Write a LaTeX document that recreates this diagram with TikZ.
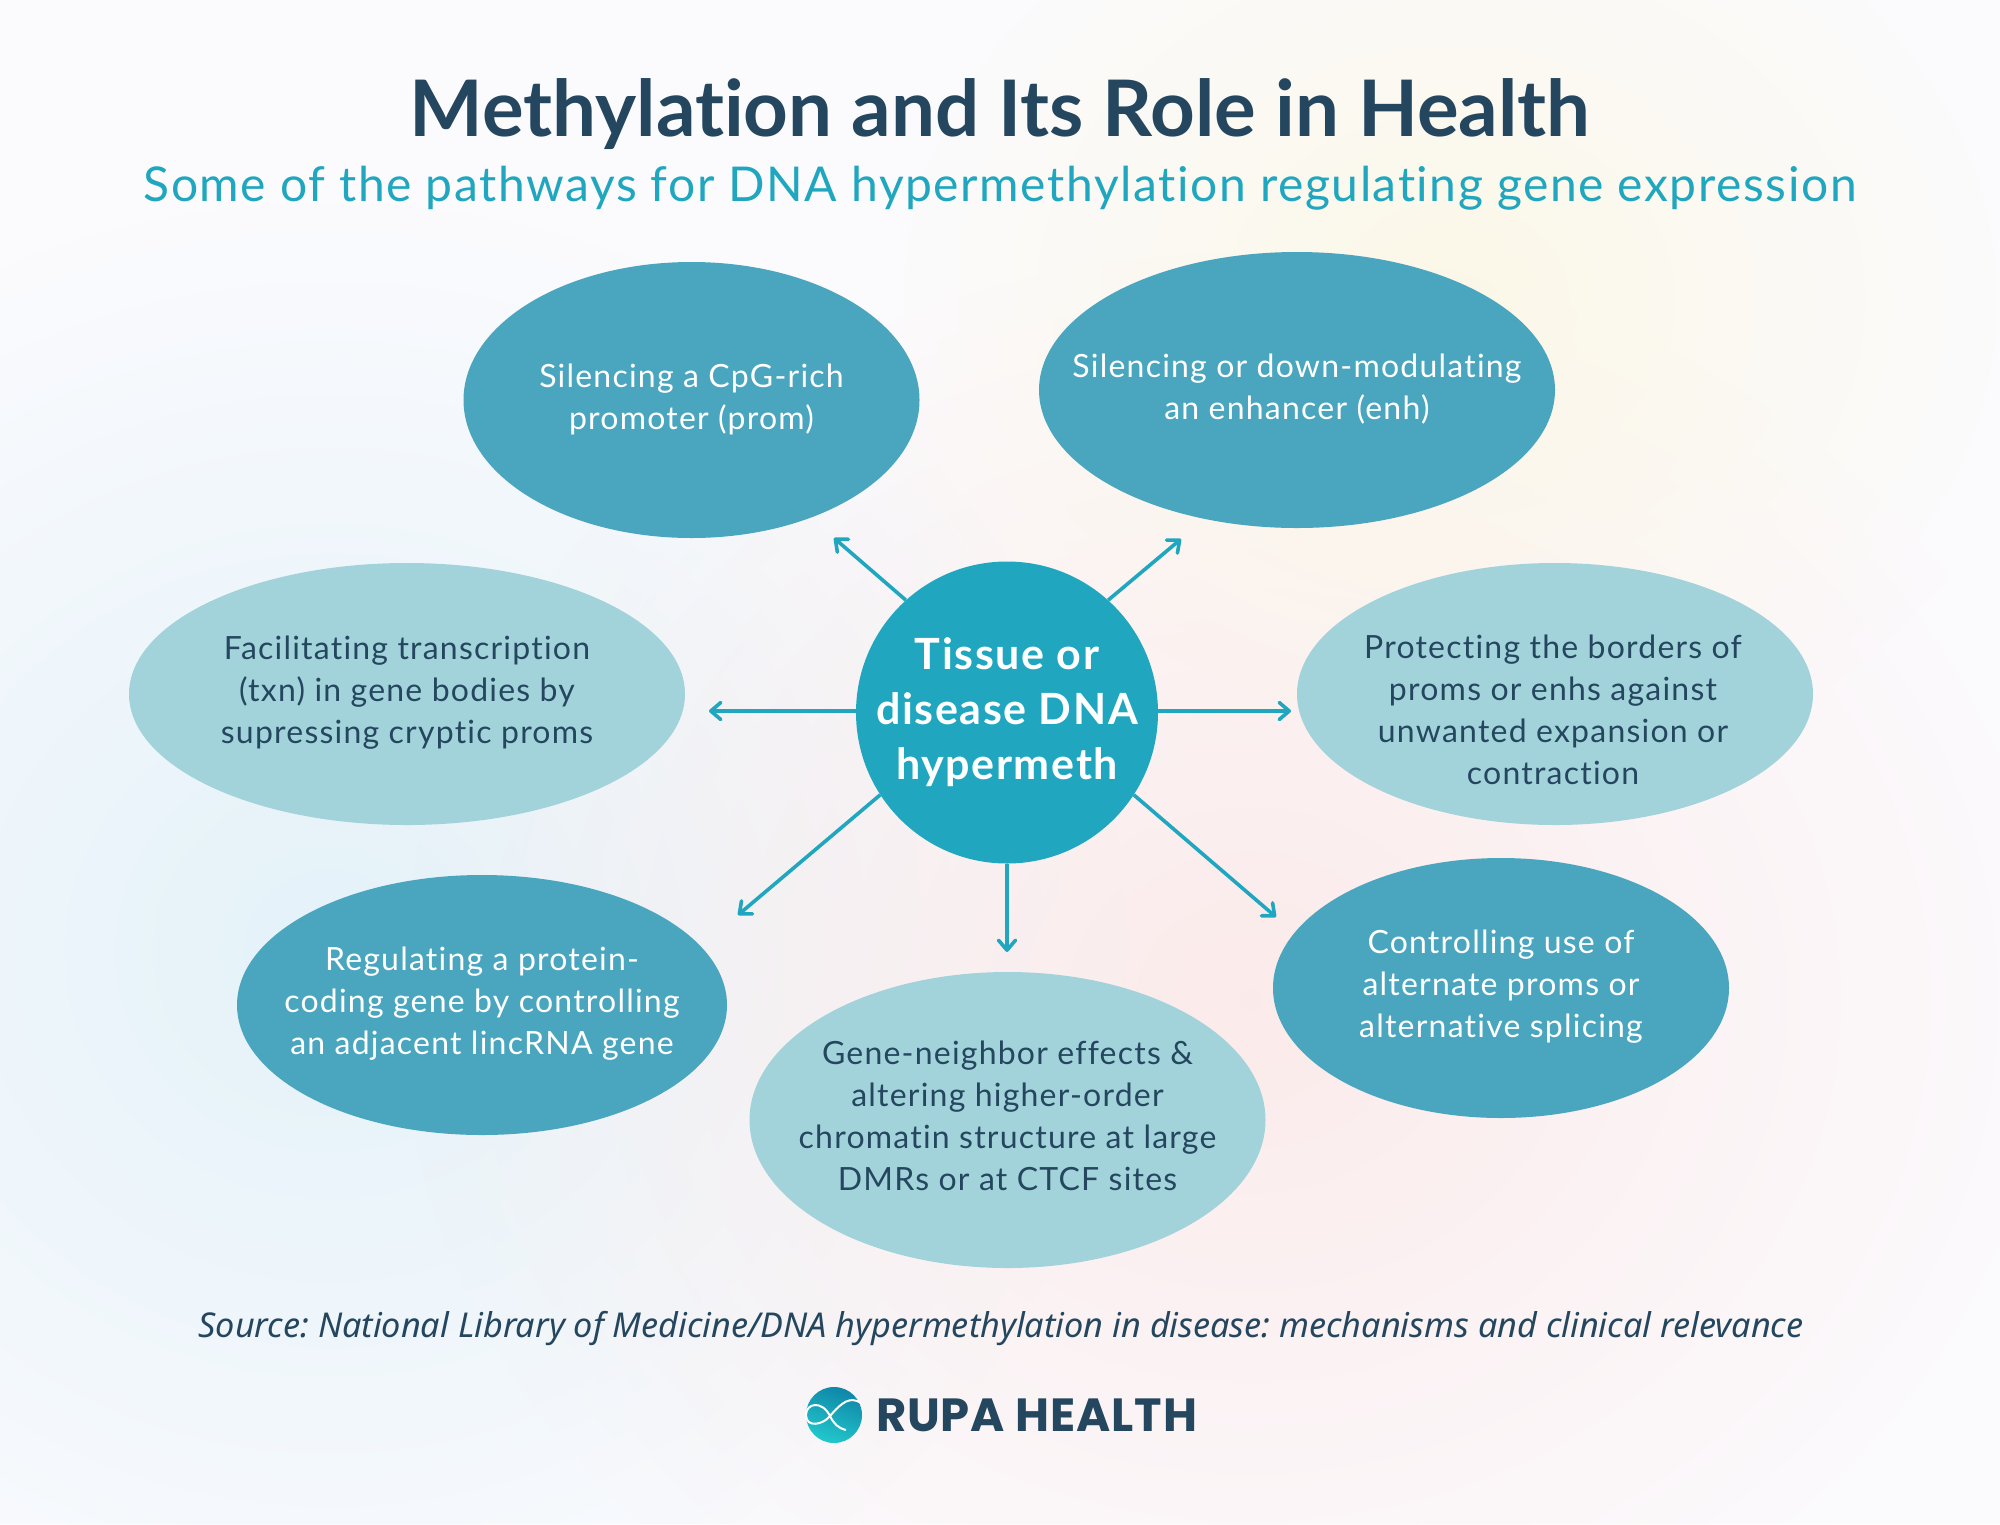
\documentclass[tikz,border=0pt]{standalone}
\usepackage{fontspec}
\setmainfont[Ligatures=NoCommon,LetterSpace=3.8]{Lato}
\newfontfamily\titlefont[Ligatures=NoCommon]{Lato}
\newfontfamily\subtitlefont[Ligatures=NoCommon,LetterSpace=3.3]{Lato}
\newfontfamily\sourcefont{Noto Sans}
\newfontfamily\logofont[LetterSpace=1.8]{Poppins}
\usetikzlibrary{fadings}
\usetikzlibrary{arrows.meta}
\usetikzlibrary{shapes.geometric}
\definecolor{pagebg}{HTML}{FBFBFE}
\definecolor{titleink}{HTML}{24475F}
\definecolor{hubteal}{HTML}{20A7BF}
\definecolor{darkoval}{HTML}{4AA6BF}
\definecolor{lightoval}{HTML}{A3D3DA}
\definecolor{blobblue}{HTML}{DCEFF7}
\definecolor{blobpink}{HTML}{FBE9E8}
\definecolor{blobyellow}{HTML}{FBF7E2}
\definecolor{logodark}{HTML}{0F86A8}
\definecolor{logolight}{HTML}{22C8CC}
\tikzfading[name=blobfade,inner color=transparent!0,outer color=transparent!100]
\tikzset{
  x=1pt,y=-1pt,
  oval/.style={ellipse,inner sep=0pt},
  darkoval/.style={oval,fill=darkoval},
  lightoval/.style={oval,fill=lightoval},
  ovaltext/.style={align=center,inner sep=0pt,font=\fontsize{32}{42}\selectfont},
  spoke/.style={hubteal,line width=3.6pt,-{Straight Barb[length=10pt,width=17pt,line width=3.6pt,round]}}
}
\frenchspacing
\begin{document}
\begin{tikzpicture}
      \useasboundingbox (0,0) rectangle (2000,1524);
      \fill[pagebg] (0,0) rectangle (2000,1524);
      \begin{scope}
      \clip (0,0) rectangle (2000,1524);
      \fill[blobblue,path fading=blobfade,opacity=.75] (330,950) ellipse (800 and 750);
      \fill[blobpink,path fading=blobfade,opacity=.9] (1250,1000) ellipse (850 and 750);
      \fill[blobyellow,path fading=blobfade,opacity=.8] (1450,300) ellipse (600 and 500);
      \end{scope}

      \node[text=titleink,font=\titlefont\bfseries\fontsize{78}{90}\selectfont] (title) at (1000,114) {Methylation and Its Role in Health};
      \node[text=hubteal,font=\subtitlefont\fontsize{48}{58}\selectfont] (subtitle) at (1000,188) {Some of the pathways for DNA hypermethylation regulating gene expression};

      \node[darkoval,minimum width=456pt,minimum height=276pt] (prom) at (691.5,400) {};
      \node[darkoval,minimum width=516pt,minimum height=276pt] (enh) at (1297,390) {};
      \node[lightoval,minimum width=556pt,minimum height=262pt] (txn) at (407,694) {};
      \node[lightoval,minimum width=516pt,minimum height=262pt] (borders) at (1555,694) {};
      \node[darkoval,minimum width=490pt,minimum height=260pt] (lincrna) at (482,1005) {};
      \node[darkoval,minimum width=456pt,minimum height=260pt] (altuse) at (1501,988) {};
      \node[lightoval,minimum width=516pt,minimum height=296pt] (ctcf) at (1007.5,1120) {};

      \node[ovaltext,text=white] (promtext) at (691.5,399) {Silencing a CpG-rich\\promoter (prom)};
      \node[ovaltext,text=white] (enhtext) at (1297,389) {Silencing or down-modulating\\an enhancer (enh)};
      \node[ovaltext,text=titleink] (txntext) at (407,693) {Facilitating transcription\\(txn) in gene bodies by\\supressing cryptic proms};
      \node[ovaltext,text=titleink] (borderstext) at (1553,710) {Protecting the borders of\\proms or enhs against\\unwanted expansion or\\contraction};
      \node[ovaltext,text=white] (lincrnatext) at (482,1004) {Regulating a protein-\\coding gene by controlling\\an adjacent lincRNA gene};
      \node[ovaltext,text=white] (altusetext) at (1501,987) {Controlling use of\\alternate proms or\\alternative splicing};
      \node[ovaltext,text=titleink] (ctcftext) at (1007.5,1116) {Gene-neighbor effects \&\\altering higher-order\\chromatin structure at large\\DMRs or at CTCF sites};

      \node[circle,fill=hubteal,text=white,minimum size=302pt,inner sep=0pt,align=center,
        font=\bfseries\fontsize{43}{55}\selectfont] (hub) at (1007,712.5) {Tissue or\\disease DNA\\hypermeth};

      \coordinate (tipprom) at (834,538);
      \coordinate (tipenh) at (1181,539);
      \coordinate (tiptxn) at (709,711);
      \coordinate (tipborders) at (1291,711);
      \coordinate (tiplincrna) at (738,915);
      \coordinate (tipaltuse) at (1276,917);
      \coordinate (tipctcf) at (1007,952);

      \draw[spoke] (hub.132) -- (tipprom);
      \draw[spoke] (hub.48) -- (tipenh);
      \draw[spoke] (hub.west |- tiptxn) -- (tiptxn);
      \draw[spoke] (hub.east |- tipborders) -- (tipborders);
      \draw[spoke] (hub.213) -- (tiplincrna);
      \draw[spoke] (hub.327) -- (tipaltuse);
      \draw[spoke] (hub.south) -- (tipctcf);

      \node[text=titleink,font=\sourcefont\itshape\fontsize{34.2}{40}\selectfont] (source) at (1001,1329) {Source: National Library of Medicine/DNA hypermethylation in disease: mechanisms and clinical relevance};

      \shade[top color=logodark,bottom color=logolight,shading angle=-20] (834,1415) circle (28);
      \draw[white,line width=2pt] (861,1403) .. controls (850,1396) and (842,1402) .. (830,1416)
        .. controls (823,1425) and (806,1428) .. (806,1415)
        .. controls (806,1403) and (822,1400) .. (830,1416)
        .. controls (834,1424) and (838,1428) .. (846,1430);
      \node[text=titleink,anchor=west,inner sep=0pt,font=\logofont\bfseries\fontsize{46.5}{50}\selectfont] (logo) at (876,1415) {RUPA HEALTH};
\end{tikzpicture}
\end{document}
